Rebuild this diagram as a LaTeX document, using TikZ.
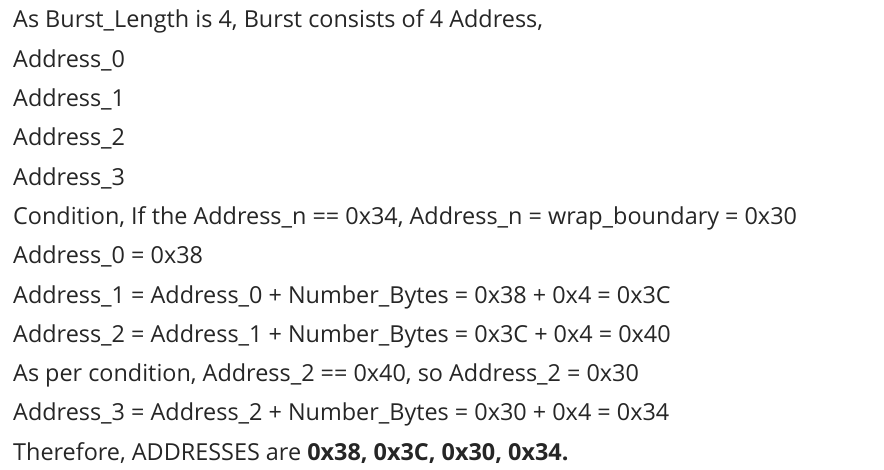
\documentclass[tikz,border=0pt]{standalone}
\usepackage{fontspec}
\setmainfont{Open Sans}
\begin{document}
\begin{tikzpicture}[x=1pt,y=1pt,line/.style={anchor=base west,inner sep=0pt,font=\fontsize{23.4}{27}\selectfont,text=black!85}]
\useasboundingbox[fill=white] (0,0) rectangle (884,470);
\node[line] (l0) at (13,442) {As Burst\_Length is 4, Burst consists of 4 Address,};
\node[line] (l1) at (13,402.7) {Address\_0};
\node[line] (l2) at (13,363.4) {Address\_1};
\node[line] (l3) at (13,324.1) {Address\_2};
\node[line] (l4) at (13,284.8) {Address\_3};
\node[line] (l5) at (13,245.5) {Condition, If the Address\_n == 0x34, Address\_n = wrap\_boundary = 0x30};
\node[line] (l6) at (13,206.2) {Address\_0 = 0x38};
\node[line] (l7) at (13,166.9) {Address\_1 = Address\_0 + Number\_Bytes = 0x38 + 0x4 = 0x3C};
\node[line] (l8) at (13,127.6) {Address\_2 = Address\_1 + Number\_Bytes = 0x3C + 0x4 = 0x40};
\node[line] (l9) at (13,88.3) {As per condition, Address\_2 == 0x40, so Address\_2 = 0x30};
\node[line] (l10) at (13,49) {Address\_3 = Address\_2 + Number\_Bytes = 0x30 + 0x4 = 0x34};
\node[line] (l11) at (13,9.7) {Therefore, ADDRESSES are \textbf{0x38, 0x3C, 0x30, 0x34.}};
\end{tikzpicture}
\end{document}
